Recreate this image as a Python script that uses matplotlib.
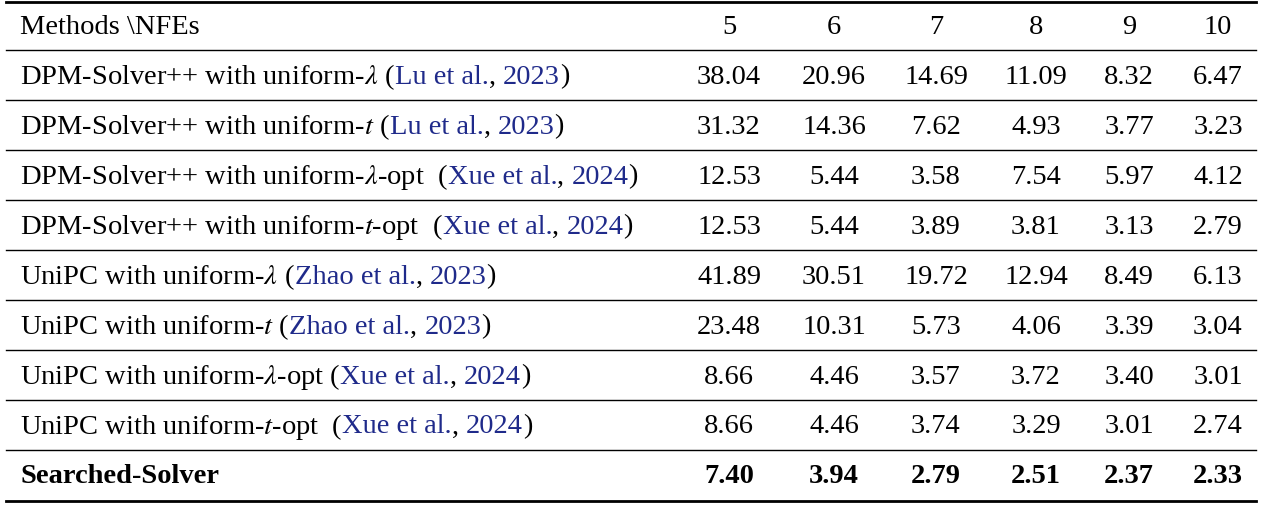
import matplotlib
matplotlib.use("Agg")
import matplotlib.pyplot as plt

plt.rcParams['font.family'] = ['Liberation Serif']
plt.rcParams['mathtext.fontset'] = 'stix'

nfes = ["5", "6", "7", "8", "9", "10"]
methods = [
    [("DPM-Solver++ with uniform-$\\lambda$ (", 'k'), ("Lu et al.", 'b'), (", ", 'k'), ("2023", 'b'), (")", 'k')],
    [("DPM-Solver++ with uniform-$t$ (", 'k'), ("Lu et al.", 'b'), (", ", 'k'), ("2023", 'b'), (")", 'k')],
    [("DPM-Solver++ with uniform-$\\lambda$-opt  (", 'k'), ("Xue et al.", 'b'), (", ", 'k'), ("2024", 'b'), (")", 'k')],
    [("DPM-Solver++ with uniform-$t$-opt  (", 'k'), ("Xue et al.", 'b'), (", ", 'k'), ("2024", 'b'), (")", 'k')],
    [("UniPC with uniform-$\\lambda$ (", 'k'), ("Zhao et al.", 'b'), (", ", 'k'), ("2023", 'b'), (")", 'k')],
    [("UniPC with uniform-$t$ (", 'k'), ("Zhao et al.", 'b'), (", ", 'k'), ("2023", 'b'), (")", 'k')],
    [("UniPC with uniform-$\\lambda$-opt (", 'k'), ("Xue et al.", 'b'), (", ", 'k'), ("2024", 'b'), (")", 'k')],
    [("UniPC with uniform-$t$-opt  (", 'k'), ("Xue et al.", 'b'), (", ", 'k'), ("2024", 'b'), (")", 'k')],
    [("Searched-Solver", 'k')],
]
values = [
    ["38.04", "20.96", "14.69", "11.09", "8.32", "6.47"],
    ["31.32", "14.36", "7.62", "4.93", "3.77", "3.23"],
    ["12.53", "5.44", "3.58", "7.54", "5.97", "4.12"],
    ["12.53", "5.44", "3.89", "3.81", "3.13", "2.79"],
    ["41.89", "30.51", "19.72", "12.94", "8.49", "6.13"],
    ["23.48", "10.31", "5.73", "4.06", "3.39", "3.04"],
    ["8.66", "4.46", "3.57", "3.72", "3.40", "3.01"],
    ["8.66", "4.46", "3.74", "3.29", "3.01", "2.74"],
    ["7.40", "3.94", "2.79", "2.51", "2.37", "2.33"],
]

W, H = 1262, 506
fig = plt.figure(figsize=(W/100, H/100), dpi=100)
ax = fig.add_axes([0, 0, 1, 1])
ax.set_xlim(0, W); ax.set_ylim(H, 0); ax.axis('off')

colx = [729, 834, 936, 1036, 1129, 1218]
fs = 20.5
blue = '#1f2a8a'
x0, x1 = 6, 1256
ax.plot([x0, x1], [3, 3], color='k', lw=2.0)
ax.plot([x0, x1], [502, 502], color='k', lw=2.0)
for i in range(9):
    ax.plot([x0, x1], [51 + 50*i]*2, color='k', lw=1.0)

ax.text(20, 27, "Methods \\NFEs", fontsize=fs, va='center', ha='left')
for x, n in zip(colx, nfes):
    ax.text(x, 27, n, fontsize=fs, va='center', ha='center')

fig.canvas.draw()
r = fig.canvas.get_renderer()
for i, (parts, vals) in enumerate(zip(methods, values)):
    y = 77 + 50*i
    bold = (i == len(methods) - 1)
    x = 20
    for s, c in parts:
        t = ax.text(x, y, s, fontsize=fs, va='center', ha='left',
                    color=(blue if c == 'b' else 'k'),
                    fontweight='bold' if bold else 'normal')
        bb = t.get_window_extent(r)
        x += bb.width  # 1 data unit == 1 pixel
    for xc, v in zip(colx, vals):
        ax.text(xc, y, v, fontsize=fs, va='center', ha='center',
                fontweight='bold' if bold else 'normal')

fig.savefig("out.png", dpi=100)
